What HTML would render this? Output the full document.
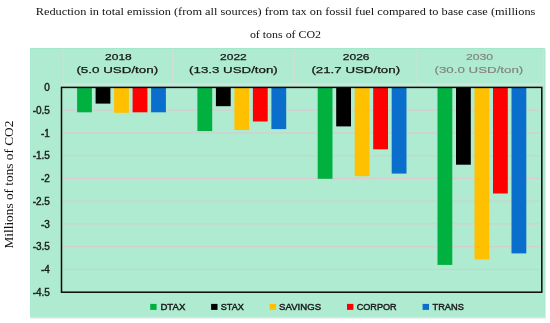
<!DOCTYPE html>
<html lang="en"><head><meta charset="utf-8"><title>Reduction in total emission</title>
<style>html,body{margin:0;padding:0;background:#fff;}svg{display:block;}text{font-family:"Liberation Sans",Arial,sans-serif;}.serif{font-family:"Liberation Serif","Times New Roman",serif;}</style></head><body>
<svg width="550" height="323" viewBox="0 0 550 323">
<rect x="0" y="0" width="550" height="323" fill="#fff"/>
<text class="serif" x="35.7" y="14.8" font-size="11.4" fill="#111" textLength="499.7" lengthAdjust="spacingAndGlyphs">Reduction in total emission (from all sources) from tax on fossil fuel compared to base case (millions</text>
<text class="serif" x="249.9" y="37.6" font-size="11.4" fill="#111" textLength="71.2" lengthAdjust="spacingAndGlyphs">of tons of CO2</text>
<text class="serif" transform="translate(13.0,248.5) rotate(-90)" font-size="12" fill="#111" textLength="127.8" lengthAdjust="spacingAndGlyphs">Millions of tons of CO2</text>
<rect x="30" y="48" width="515" height="269.7" fill="#aeebd0"/>
<rect x="545" y="49" width="1" height="269" fill="#e4e8e6"/>
<rect x="31" y="317.7" width="515" height="1" fill="#e4e8e6"/>
<rect x="30" y="48" width="515" height="1" fill="#a4e8c9"/>
<rect x="62.5" y="83" width="480" height="3.5" fill="#c3e9d8"/>
<rect x="62.7" y="49" width="1.2" height="37.5" fill="#dcd9d8"/>
<rect x="172.3" y="49" width="1.2" height="37.5" fill="#dcd9d8"/>
<rect x="293.4" y="49" width="1.2" height="37.5" fill="#dcd9d8"/>
<rect x="416.7" y="49" width="1.2" height="37.5" fill="#dcd9d8"/>
<rect x="542.8" y="49" width="1.2" height="37.5" fill="#dcd9d8"/>
<rect x="61.5" y="109.61" width="478.0" height="1.1" fill="#dbc9d1"/>
<rect x="61.5" y="132.36" width="478.0" height="1.1" fill="#dbc9d1"/>
<rect x="61.5" y="155.12" width="478.0" height="1.1" fill="#dbc9d1"/>
<rect x="61.5" y="177.87" width="478.0" height="1.1" fill="#dbc9d1"/>
<rect x="61.5" y="200.63" width="478.0" height="1.1" fill="#dbc9d1"/>
<rect x="61.5" y="223.38" width="478.0" height="1.1" fill="#dbc9d1"/>
<rect x="61.5" y="246.14" width="478.0" height="1.1" fill="#dbc9d1"/>
<rect x="61.5" y="268.89" width="478.0" height="1.1" fill="#dbc9d1"/>
<rect x="77.1" y="87.4" width="14.8" height="24.9" fill="#00b140"/>
<rect x="95.6" y="87.4" width="14.8" height="16.2" fill="#000000"/>
<rect x="114.1" y="87.4" width="14.8" height="25.4" fill="#ffc000"/>
<rect x="132.6" y="87.4" width="14.8" height="24.9" fill="#ff0000"/>
<rect x="151.1" y="87.4" width="14.8" height="24.9" fill="#0a6fcc"/>
<rect x="197.4" y="87.4" width="14.8" height="43.7" fill="#00b140"/>
<rect x="215.9" y="87.4" width="14.8" height="18.8" fill="#000000"/>
<rect x="234.4" y="87.4" width="14.8" height="42.6" fill="#ffc000"/>
<rect x="252.9" y="87.4" width="14.8" height="34.1" fill="#ff0000"/>
<rect x="271.4" y="87.4" width="14.8" height="41.7" fill="#0a6fcc"/>
<rect x="317.7" y="87.4" width="14.8" height="91.4" fill="#00b140"/>
<rect x="336.2" y="87.4" width="14.8" height="39.0" fill="#000000"/>
<rect x="354.7" y="87.4" width="14.8" height="88.8" fill="#ffc000"/>
<rect x="373.2" y="87.4" width="14.8" height="61.9" fill="#ff0000"/>
<rect x="391.7" y="87.4" width="14.8" height="86.2" fill="#0a6fcc"/>
<rect x="437.5" y="87.4" width="14.8" height="177.5" fill="#00b140"/>
<rect x="456.0" y="87.4" width="14.8" height="77.3" fill="#000000"/>
<rect x="474.5" y="87.4" width="14.8" height="172.0" fill="#ffc000"/>
<rect x="493.0" y="87.4" width="14.8" height="106.1" fill="#ff0000"/>
<rect x="511.5" y="87.4" width="14.8" height="166.0" fill="#0a6fcc"/>
<rect x="61.5" y="87.4" width="480.3" height="204.8" fill="none" stroke="#0a0a0a" stroke-width="1.5"/>
<text x="49.9" y="90.9" font-size="10" fill="#1c1c1c" stroke="#1c1c1c" stroke-width="0.4" text-anchor="end">0</text>
<text x="49.9" y="113.7" font-size="10" fill="#1c1c1c" stroke="#1c1c1c" stroke-width="0.4" text-anchor="end">-0.5</text>
<text x="49.9" y="136.5" font-size="10" fill="#1c1c1c" stroke="#1c1c1c" stroke-width="0.4" text-anchor="end">-1</text>
<text x="49.9" y="159.2" font-size="10" fill="#1c1c1c" stroke="#1c1c1c" stroke-width="0.4" text-anchor="end">-1.5</text>
<text x="49.9" y="182.0" font-size="10" fill="#1c1c1c" stroke="#1c1c1c" stroke-width="0.4" text-anchor="end">-2</text>
<text x="49.9" y="204.8" font-size="10" fill="#1c1c1c" stroke="#1c1c1c" stroke-width="0.4" text-anchor="end">-2.5</text>
<text x="49.9" y="227.6" font-size="10" fill="#1c1c1c" stroke="#1c1c1c" stroke-width="0.4" text-anchor="end">-3</text>
<text x="49.9" y="250.4" font-size="10" fill="#1c1c1c" stroke="#1c1c1c" stroke-width="0.4" text-anchor="end">-3.5</text>
<text x="49.9" y="273.1" font-size="10" fill="#1c1c1c" stroke="#1c1c1c" stroke-width="0.4" text-anchor="end">-4</text>
<text x="49.9" y="295.9" font-size="10" fill="#1c1c1c" stroke="#1c1c1c" stroke-width="0.4" text-anchor="end">-4.5</text>
<text x="105.1" y="60.2" font-size="9.7" fill="#161616" stroke="#161616" stroke-width="0.25" textLength="26.7" lengthAdjust="spacingAndGlyphs">2018</text>
<text x="76.4" y="73.3" font-size="9.7" fill="#161616" stroke="#161616" stroke-width="0.25" textLength="81.8" lengthAdjust="spacingAndGlyphs">(5.0 USD/ton)</text>
<text x="220.1" y="60.2" font-size="9.7" fill="#161616" stroke="#161616" stroke-width="0.25" textLength="26.7" lengthAdjust="spacingAndGlyphs">2022</text>
<text x="189.1" y="73.3" font-size="9.7" fill="#161616" stroke="#161616" stroke-width="0.25" textLength="88.7" lengthAdjust="spacingAndGlyphs">(13.3 USD/ton)</text>
<text x="342.8" y="60.2" font-size="9.7" fill="#161616" stroke="#161616" stroke-width="0.25" textLength="26.7" lengthAdjust="spacingAndGlyphs">2026</text>
<text x="311.4" y="73.3" font-size="9.7" fill="#161616" stroke="#161616" stroke-width="0.25" textLength="88.7" lengthAdjust="spacingAndGlyphs">(21.7 USD/ton)</text>
<text x="465.9" y="60.2" font-size="9.7" fill="#848080" stroke="#848080" stroke-width="0.15" textLength="27.3" lengthAdjust="spacingAndGlyphs">2030</text>
<text x="434.5" y="73.3" font-size="9.7" fill="#848080" stroke="#848080" stroke-width="0.15" textLength="88.8" lengthAdjust="spacingAndGlyphs">(30.0 USD/ton)</text>
<rect x="150.2" y="303.9" width="6.4" height="6" fill="#00b140"/>
<text x="160.4" y="309.9" font-size="9.8" fill="#1c1c1c" stroke="#1c1c1c" stroke-width="0.45" textLength="24.9" lengthAdjust="spacingAndGlyphs">DTAX</text>
<rect x="211.1" y="303.9" width="6.4" height="6" fill="#000000"/>
<text x="220.7" y="309.9" font-size="9.8" fill="#1c1c1c" stroke="#1c1c1c" stroke-width="0.45" textLength="23.1" lengthAdjust="spacingAndGlyphs">STAX</text>
<rect x="269.7" y="303.9" width="6.4" height="6" fill="#ffc000"/>
<text x="279.1" y="309.9" font-size="9.8" fill="#1c1c1c" stroke="#1c1c1c" stroke-width="0.45" textLength="42.0" lengthAdjust="spacingAndGlyphs">SAVINGS</text>
<rect x="347.0" y="303.9" width="6.4" height="6" fill="#ff0000"/>
<text x="356.7" y="309.9" font-size="9.8" fill="#1c1c1c" stroke="#1c1c1c" stroke-width="0.45" textLength="39.9" lengthAdjust="spacingAndGlyphs">CORPOR</text>
<rect x="422.6" y="303.9" width="6.4" height="6" fill="#0a6fcc"/>
<text x="432.5" y="309.9" font-size="9.8" fill="#1c1c1c" stroke="#1c1c1c" stroke-width="0.45" textLength="31.3" lengthAdjust="spacingAndGlyphs">TRANS</text>
</svg></body></html>
